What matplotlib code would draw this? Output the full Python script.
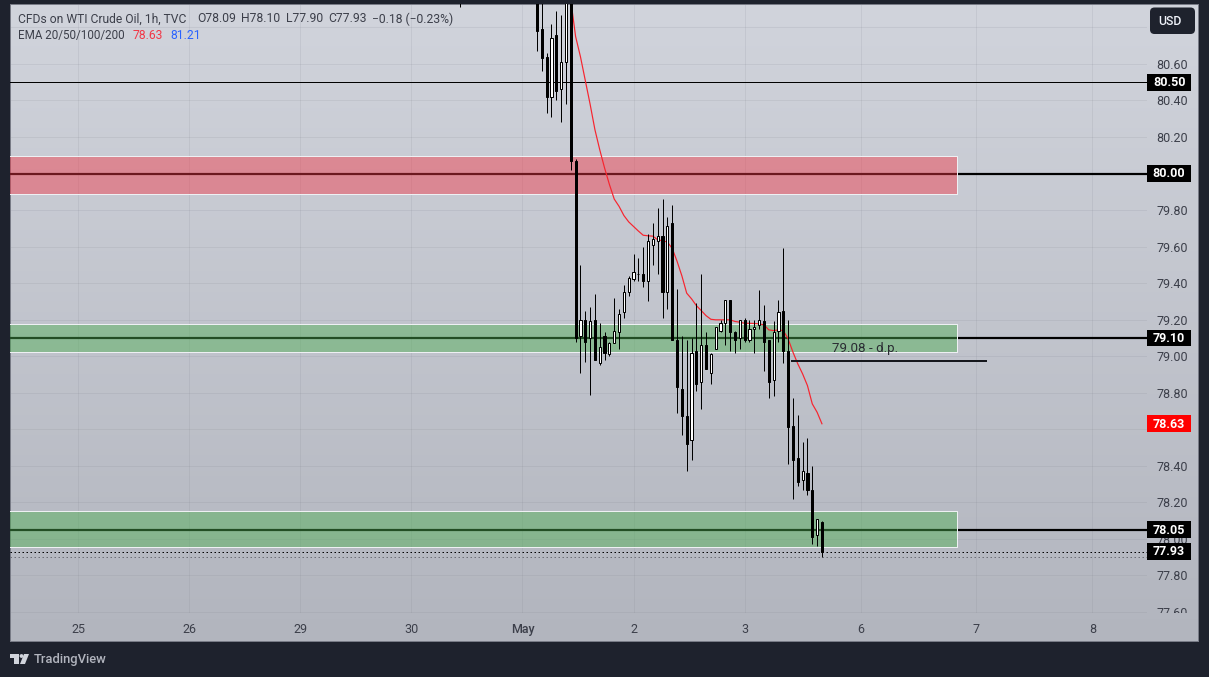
import numpy as np
import matplotlib
matplotlib.use('Agg')
import matplotlib.pyplot as plt
from matplotlib.colors import LinearSegmentedColormap
from matplotlib.patches import Rectangle, FancyBboxPatch, Polygon, Circle
from matplotlib.transforms import Bbox

plt.rcParams['font.family'] = ['Roboto', 'DejaVu Sans']

# candles, x is the bar number counted from 1 May 00:00
bars = [-13] + list(range(3, 63))
opens = [81.20, 81.10, 80.79, 80.64, 80.42, 80.76, 80.46, 80.61, 81.00, 80.07, 79.11, 79.20, 79.10, 79.20, 78.96,
         79.11, 79.01, 79.07, 79.13, 79.24, 79.35, 79.42, 79.45, 79.45, 79.41, 79.61, 79.63, 79.66, 79.35, 79.73,
         79.09, 78.82, 78.67, 78.54, 79.03, 78.86, 79.06, 78.91, 79.04, 79.14, 79.18, 79.31, 79.13, 79.10, 79.20,
         79.09, 79.15, 79.17, 79.19, 79.09, 78.87, 79.14, 79.25, 79.03, 78.62, 78.44, 78.32, 78.36, 78.27, 78.02, 78.09]
highs = [81.30, 81.20, 81.00, 80.66, 80.82, 80.89, 80.87, 81.05, 81.10, 80.08, 79.50, 79.25, 79.27, 79.34, 79.18,
         79.13, 79.08, 79.32, 79.26, 79.39, 79.44, 79.56, 79.54, 79.60, 79.67, 79.73, 79.81, 79.86, 79.76, 79.83,
         79.37, 79.11, 79.09, 79.10, 79.29, 79.45, 79.13, 79.02, 79.16, 79.20, 79.31, 79.31, 79.14, 79.20, 79.21,
         79.20, 79.20, 79.36, 79.28, 79.09, 79.19, 79.31, 79.59, 79.20, 78.77, 78.68, 78.53, 78.55, 78.40, 78.11, 78.10]
lows = [80.91, 80.67, 80.56, 80.33, 80.31, 80.40, 80.28, 80.38, 80.02, 79.08, 78.91, 78.97, 78.79, 78.98, 78.95,
        78.98, 79.00, 79.07, 79.04, 79.21, 79.33, 79.41, 79.41, 79.38, 79.30, 79.50, 79.45, 79.21, 79.26, 79.09,
        78.69, 78.57, 78.37, 78.43, 78.81, 78.71, 78.93, 78.85, 79.04, 79.13, 79.06, 79.03, 79.02, 79.04, 79.08,
        79.08, 79.02, 79.15, 78.92, 78.77, 78.78, 79.08, 78.96, 78.41, 78.22, 78.29, 78.27, 78.24, 77.97, 77.96, 77.90]
closes = [81.10, 80.78, 80.63, 80.42, 80.74, 80.45, 80.61, 81.00, 80.07, 79.10, 79.20, 79.08, 79.19, 78.98, 79.05,
          79.02, 79.07, 79.14, 79.23, 79.35, 79.43, 79.46, 79.45, 79.41, 79.63, 79.64, 79.66, 79.35, 79.71, 79.09,
          78.83, 78.67, 78.52, 79.02, 78.85, 79.06, 78.93, 79.01, 79.16, 79.18, 79.31, 79.13, 79.09, 79.20, 79.09,
          79.15, 79.16, 79.20, 79.08, 78.86, 79.13, 79.24, 79.03, 78.61, 78.43, 78.31, 78.37, 78.27, 78.01, 78.11, 77.93]

ema_bars = list(range(10, 63))
ema20 = [80.95, 80.75, 80.64, 80.51, 80.38, 80.24, 80.13, 80.03, 79.94, 79.86, 79.82, 79.77, 79.735, 79.71, 79.685,
         79.662, 79.659, 79.657, 79.637, 79.632, 79.625, 79.59, 79.52, 79.44, 79.345, 79.314, 79.277, 79.25, 79.222,
         79.202, 79.199, 79.199, 79.199, 79.199, 79.19, 79.186, 79.18, 79.18, 79.179, 79.177, 79.171, 79.144, 79.14,
         79.144, 79.14, 79.095, 79.022, 78.958, 78.903, 78.839, 78.739, 78.693, 78.63]

day_bars = [-92, -69, -46, -23, 0, 23, 46, 70, 94, 118]
day_labels = ['25', '26', '29', '30', 'May', '2', '3', '6', '7', '8']
price_ticks = [77.6, 77.8, 78.0, 78.2, 78.4, 78.6, 78.8, 79.0, 79.2, 79.4, 79.6, 79.8, 80.0, 80.2, 80.4, 80.6, 80.8]
# these sit fully behind a tag or the USD button in the picture
hidden_ticks = [78.6, 80.0, 80.8]

zone_bottoms = [79.89, 79.024, 77.958]
zone_tops = [80.098, 79.177, 78.15]
zone_colors = ['#f23645', '#4caf50', '#4caf50']
level_prices = [80.00, 79.10, 78.05]
thin_level = 80.50
dp_price = 78.976
last_price = 77.93
low_price = 77.90
tags = [('80.50', 80.50, 'black'), ('80.00', 80.00, 'black'), ('79.10', 79.10, 'black'),
        ('78.63', 78.63, '#ff0000'), ('78.05', 78.05, 'black'), ('77.93', 77.93, 'black')]

W, H = 1209, 677
px = 0.72
FRAME = '#1e222d'
TXT = '#3c3f4a'

fig = plt.figure(figsize=(W / 100, H / 100), dpi=100, facecolor=FRAME)


def box(x0, y0, x1, y1):
    return [x0 / W, 1 - y1 / H, (x1 - x0) / W, (y1 - y0) / H]


# gradient panel behind the chart
bg = fig.add_axes(box(10, 4, 1198, 641), zorder=0)
cmap = LinearSegmentedColormap.from_list('panel', ['#d1d4dc', '#b2b5be'])
bg.imshow(np.linspace(0, 1, 256).reshape(-1, 1), aspect='auto', cmap=cmap)
bg.set_xticks([])
bg.set_yticks([])
for s in bg.spines.values():
    s.set_color('#787b86')
    s.set_linewidth(px)

ax = fig.add_axes(box(10, 4, 1147, 613), zorder=1)
ax.patch.set_alpha(0)
x0, x1 = -106.1, 129.3
ax.set_xlim(x0, x1)
ax.set_ylim(77.594, 80.928)
for s in ax.spines.values():
    s.set_visible(False)

ax.set_xticks(day_bars)
ax.set_xticklabels(day_labels, fontsize=9, color=TXT)
ax.get_xticklabels()[4].set_fontweight('medium')
ax.yaxis.tick_right()
ax.set_yticks(price_ticks)
ax.set_yticklabels(['' if p in hidden_ticks else '%.2f' % p for p in price_ticks], fontsize=9, color=TXT)
ax.tick_params(axis='both', length=0)
ax.tick_params(axis='x', pad=7)
ax.tick_params(axis='y', pad=6.5)
ax.grid(True, color='#787b86', alpha=0.13, linewidth=1.0 * px)
ax.set_axisbelow(True)

# lowest label gets cut at the bottom of the pane
for t in ax.get_yticklabels():
    t.set_clip_on(True)
    t.set_clip_box(Bbox([[1147, H - 613], [1198, H]]))

# levels go under the zones, that is why they look dark inside them
ax.axhline(thin_level, color='black', lw=1.0 * px, zorder=1.5)
for p in level_prices:
    ax.axhline(p, color='black', lw=2.2 * px, zorder=1.5)
ax.axhline(last_price, color='black', lw=1.0 * px, ls=(0, (1.5, 2.5)), zorder=1.5)
ax.axhline(low_price, color='#6d6f78', lw=1.0 * px, ls=(0, (1.5, 2.5)), zorder=1.5)

for b, t, c in zip(zone_bottoms, zone_tops, zone_colors):
    ax.add_patch(Rectangle((x0, b), 90 - x0, t - b, fc=c, alpha=0.45, ec='none', zorder=1.7))
    ax.plot([x0, 90, 90, x0], [t, t, b, b], color='#eef0f3', lw=1.0 * px, zorder=1.8)

ax.plot(ema_bars, ema20, color='#f7252f', lw=1.2 * px, zorder=2.2)

bars_a = np.array(bars)
o = np.array(opens)
c = np.array(closes)
up = c > o
ax.vlines(bars_a, lows, highs, color='black', lw=1.0 * px, zorder=2.3)
ax.bar(bars_a[~up], np.abs(c - o)[~up], bottom=np.minimum(o, c)[~up], width=0.45, color='black',
       edgecolor='black', linewidth=1.0 * px, zorder=2.4)
ax.bar(bars_a[up], (c - o)[up], bottom=o[up], width=0.45, color='white',
       edgecolor='black', linewidth=1.0 * px, zorder=2.4)

ax.plot([55.8, 96], [dp_price, dp_price], color='#15171c', lw=2.0 * px, zorder=2.6)
ax.text(71.0, dp_price + 0.065, '79.08 - d.p.', fontsize=9.6, color='#2a2c33', ha='center', va='center', zorder=2.6)

# price tags on the axis
tr = ax.get_yaxis_transform()
for label, p, col in tags:
    ax.add_patch(Rectangle((1.0003, p - 0.046), 0.0385, 0.092, transform=tr, fc=col, ec='none', clip_on=False, zorder=3))
    ax.text(1.0195, p - 0.002, label, transform=tr, color='white', fontsize=9, fontweight='bold',
            ha='center', va='center', clip_on=False, zorder=3.1)

# chrome in plain pixel coordinates
top = fig.add_axes([0, 0, 1, 1], zorder=2)
top.set_xlim(0, W)
top.set_ylim(H, 0)
top.axis('off')
top.add_patch(FancyBboxPatch((1150, 7.5), 45, 26.5, boxstyle='round,pad=0,rounding_size=4.5', fc=FRAME, ec='none'))
top.text(1170, 21.5, 'USD', color='#f0f3fa', fontsize=8.8, fontweight='medium', ha='center', va='center')

head = [(18, 'CFDs on WTI Crude Oil, 1h, TVC'), (197, 'O78.09'), (241, 'H78.10'), (286, 'L77.90'),
        (328, 'C77.93'), (372, '\u22120.18 (\u22120.23%)')]
for hx, s in head:
    top.text(hx, 19, s, color=TXT, fontsize=8.7, va='center')
top.text(18, 35.5, 'EMA 20/50/100/200', color=TXT, fontsize=8.4, va='center')
top.text(133, 35.5, '78.63', color='#f23645', fontsize=8.7, va='center')
top.text(170, 35.5, '81.21', color='#2962ff', fontsize=8.7, va='center')

# TradingView mark
top.add_patch(Polygon([(10, 654), (19, 654), (19, 664), (14, 664), (14, 658), (10, 658)], fc='#d1d4dc', ec='none'))
top.add_patch(Circle((21.5, 656), 1.9, fc='#d1d4dc', ec='none'))
top.add_patch(Polygon([(24, 654), (29, 654), (25, 664), (20, 664)], fc='#d1d4dc', ec='none'))
top.text(33.5, 659.5, 'TradingView', color='#b2b5be', fontsize=9.4, fontweight='medium', va='center')

fig.savefig('out.png', dpi=100, facecolor=FRAME)
